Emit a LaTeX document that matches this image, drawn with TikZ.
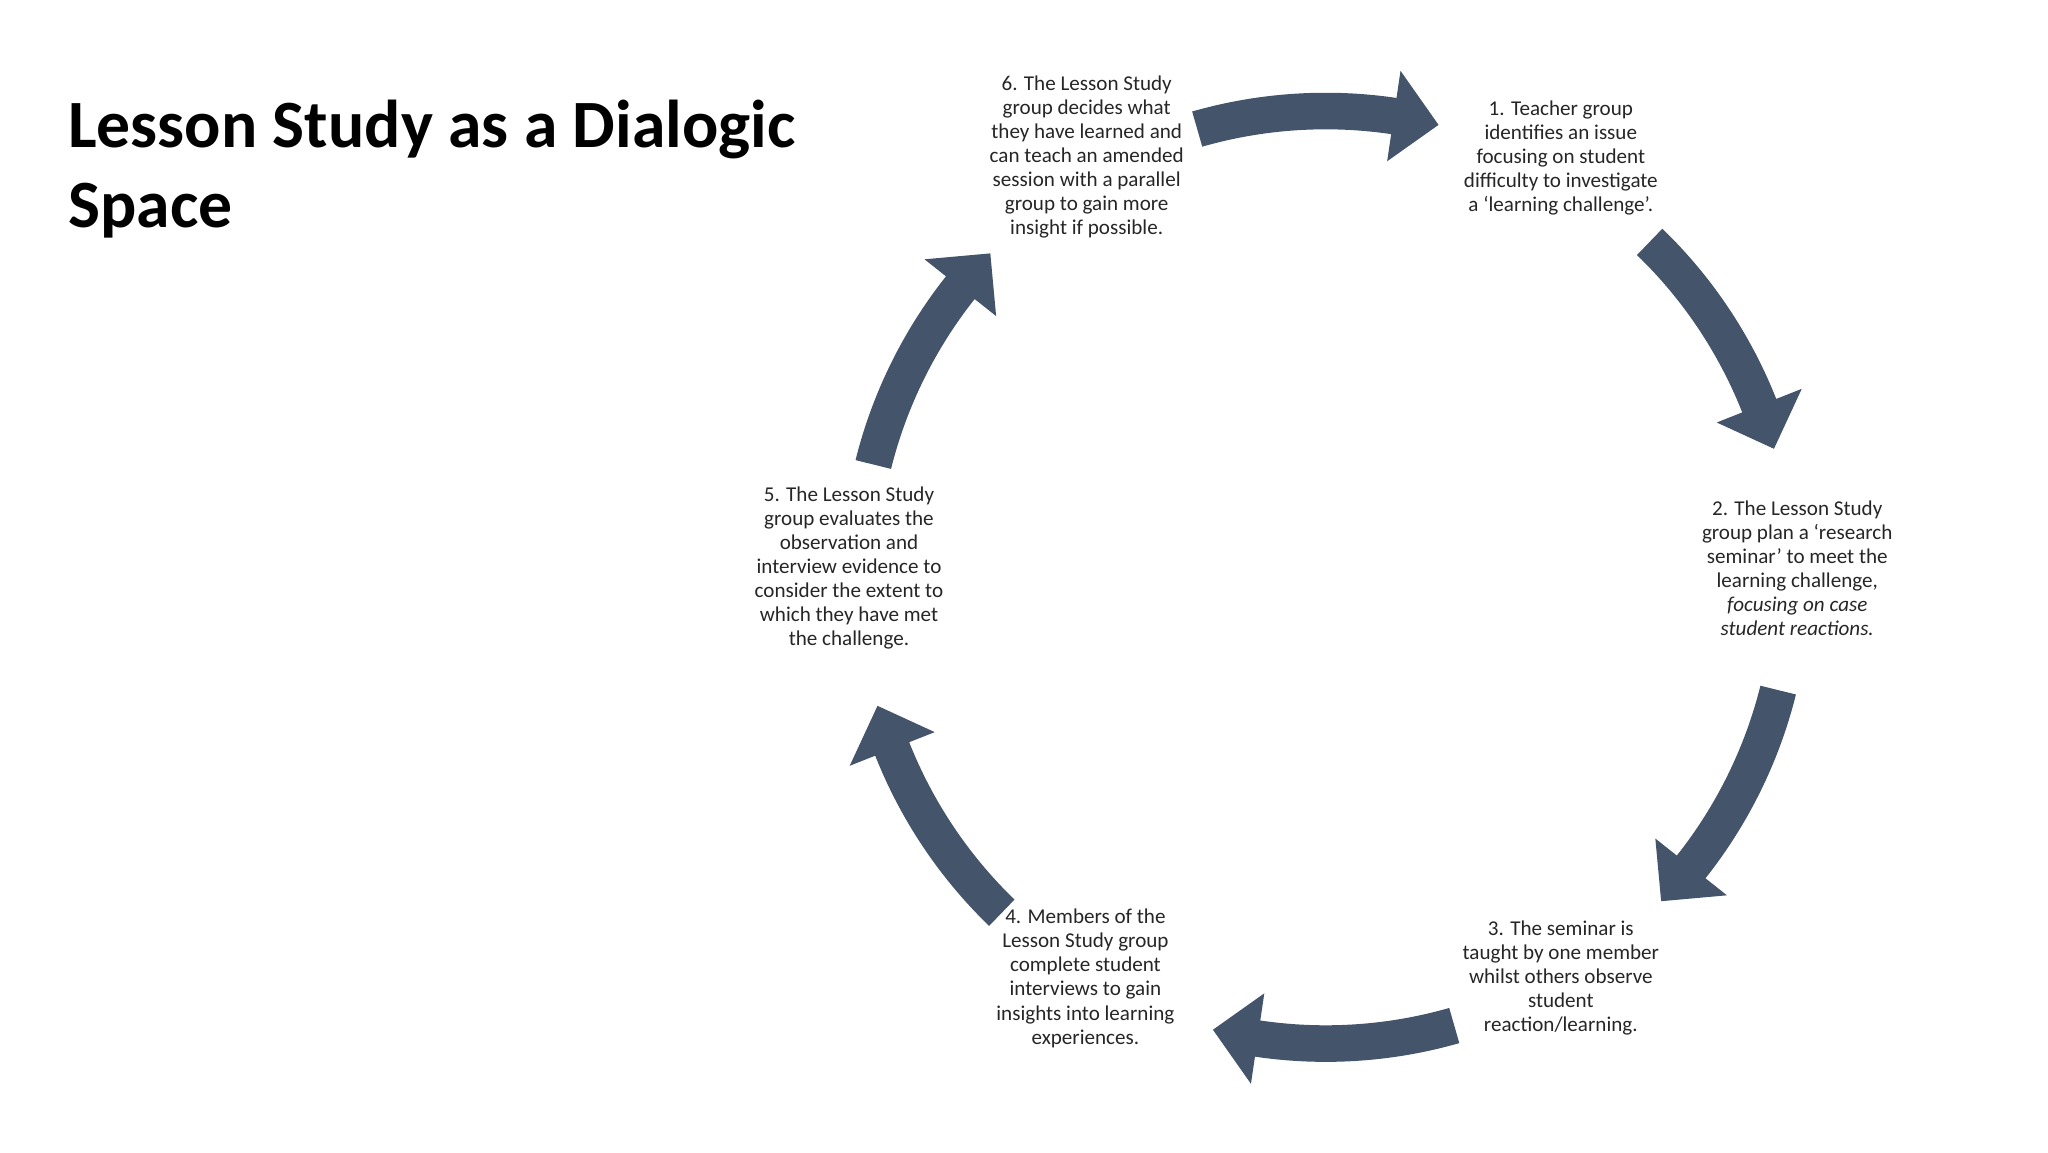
\documentclass[tikz,border=0pt]{standalone}
\usepackage{fontspec}
\setmainfont{Carlito}
\tikzset{
  ac/.style={fill={rgb,255:red,68;green,84;blue,106}},
  lbl/.style={align=center,text=black!85,font=\fontsize{12}{13.7}\selectfont,inner sep=0pt},
}
\begin{document}
\begin{tikzpicture}[x=0.026122cm,y=0.026122cm]
\useasboundingbox (0,0) rectangle (1568,882);
\coordinate (c) at (1015,440);
\def\R{357}
\foreach \m in {90,30,-30,-90,-150,150}{
  \pgfmathsetmacro\s{\m+16}
  \pgfmathsetmacro\h{\m-8.4}
  \pgfmathsetmacro\e{\m-14}
  \fill[ac] ([shift={(\s:\R+14)}]c) arc[start angle=\s,end angle=\h,radius=\R+14]
    -- ([shift={(\h:\R+35)}]c) -- ([shift={(\e:\R)}]c) -- ([shift={(\h:\R-35)}]c)
    -- ([shift={(\h:\R-14)}]c) arc[start angle=\h,end angle=\s,radius=\R-14] -- cycle;
}
\node[anchor=north west,align=left,font=\fontsize{38.5}{46}\selectfont\bfseries,inner sep=0pt] (title) at (52,806)
  {Lesson Study as a Dialogic\\Space};
\node[lbl] (n6) at (832,762) {6. The Lesson Study\\group decides what\\they have learned and\\can teach an amended\\session with a parallel\\group to gain more\\insight if possible.};
\node[lbl] (n1) at (1195,761) {1. Teacher group\\identifies an issue\\focusing on student\\difficulty to investigate\\a `learning challenge'.};
\node[lbl] (n2) at (1376,447) {2. The Lesson Study\\group plan a `research\\seminar' to meet the\\learning challenge,\\\textit{focusing on case}\\\textit{student reactions.}};
\node[lbl] (n3) at (1195,133) {3. The seminar is\\taught by one member\\whilst others observe\\student\\reaction/learning.};
\node[lbl] (n4) at (831,133) {4. Members of the\\Lesson Study group\\complete student\\interviews to gain\\insights into learning\\experiences.};
\node[lbl] (n5) at (650,447) {5. The Lesson Study\\group evaluates the\\observation and\\interview evidence to\\consider the extent to\\which they have met\\the challenge.};
\end{tikzpicture}
\end{document}
